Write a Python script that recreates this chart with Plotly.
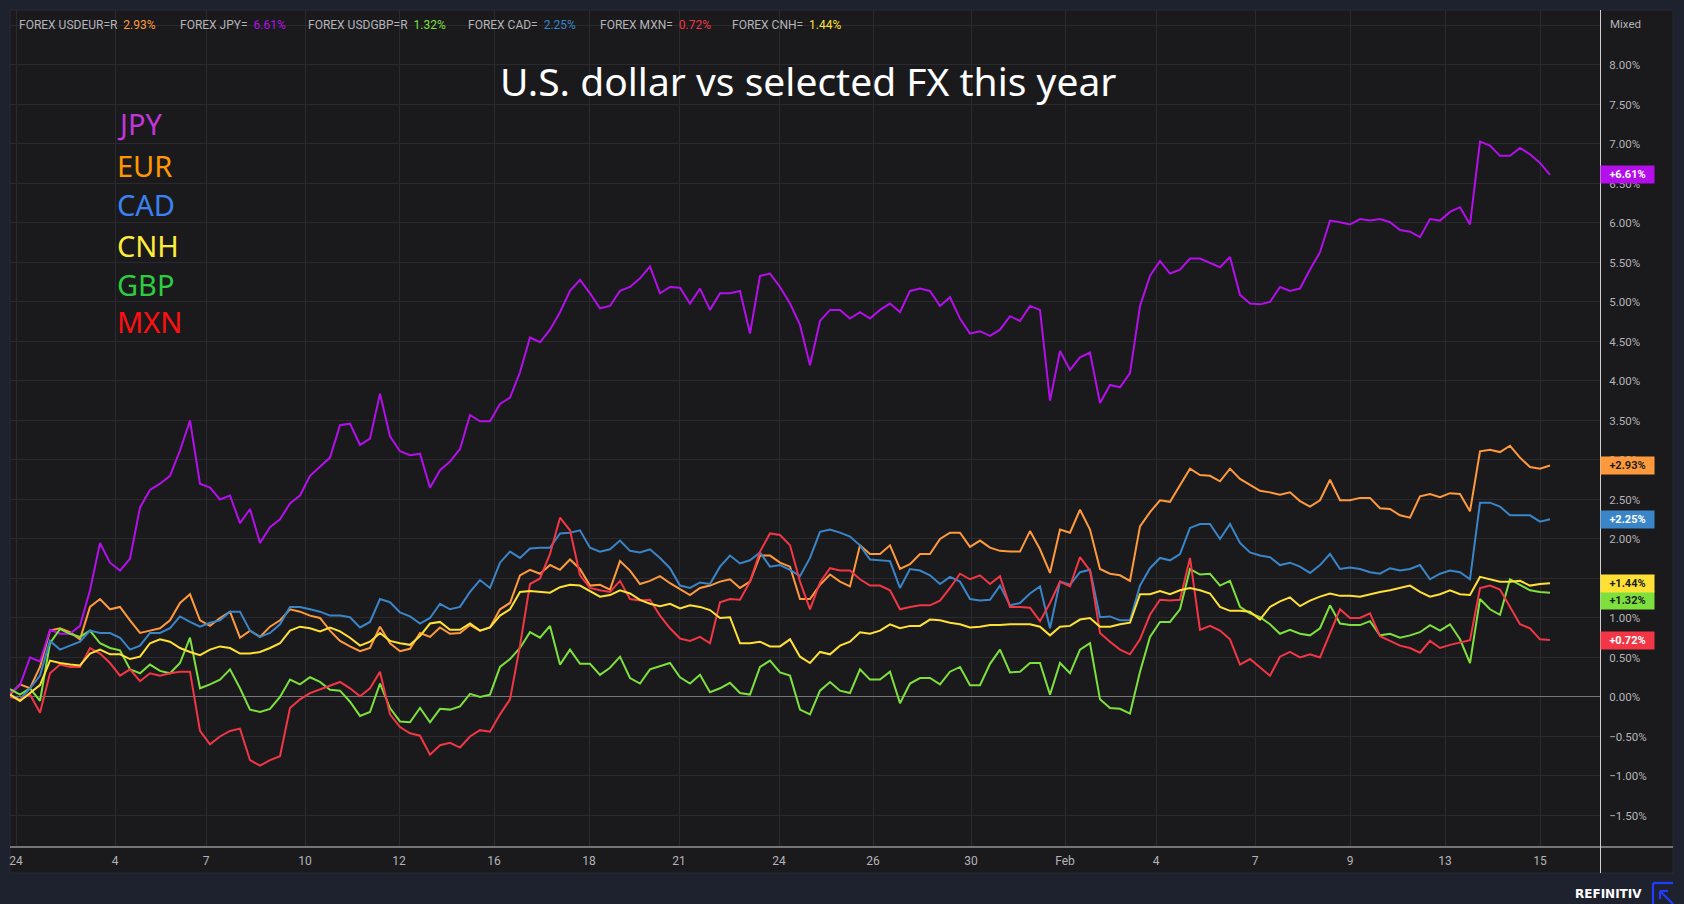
import plotly.graph_objects as go

# ---------------- data (percent change vs start of year) ----------------
# one sample per evenly spaced bar position (bar index 0..154)
EUR = [0.03,0.16,0.11,0.38,0.84,0.87,0.82,0.73,1.14,1.24,
       1.11,1.14,0.97,0.81,0.84,0.87,0.97,1.19,1.3,0.97,
       0.9,1.0,1.08,0.75,0.84,0.76,0.89,0.97,1.11,1.08,
       1.03,1.0,0.84,0.71,0.64,0.58,0.62,0.89,0.68,0.58,
       0.61,0.81,0.76,0.88,0.8,0.81,0.91,0.84,0.88,1.11,
       1.19,1.54,1.61,1.56,1.67,1.61,1.74,1.62,1.41,1.42,
       1.36,1.72,1.6,1.43,1.47,1.53,1.44,1.37,1.29,1.38,
       1.41,1.46,1.49,1.38,1.46,1.79,1.79,1.7,1.65,1.24,
       1.24,1.42,1.55,1.46,1.4,1.92,1.81,1.81,1.92,1.62,
       1.68,1.81,1.81,2.0,2.08,2.08,1.9,1.98,1.89,1.85,
       1.84,1.84,2.1,1.87,1.57,2.12,2.08,2.37,2.12,1.62,
       1.56,1.54,1.47,2.16,2.34,2.49,2.47,2.68,2.89,2.81,
       2.8,2.73,2.89,2.76,2.69,2.61,2.59,2.56,2.59,2.48,
       2.41,2.49,2.75,2.49,2.49,2.52,2.52,2.39,2.38,2.3,
       2.27,2.54,2.57,2.53,2.58,2.57,2.35,3.11,3.13,3.1,
       3.18,3.03,2.91,2.89,2.93]

JPY = [0.05,0.15,0.5,0.45,0.85,0.8,0.8,0.9,1.35,1.95,
       1.7,1.6,1.75,2.4,2.62,2.7,2.8,3.12,3.5,2.7,
       2.65,2.5,2.55,2.2,2.38,1.95,2.15,2.25,2.45,2.55,
       2.8,2.92,3.03,3.44,3.46,3.19,3.27,3.84,3.3,3.11,
       3.06,3.08,2.65,2.87,2.98,3.14,3.57,3.49,3.49,3.71,
       3.79,4.11,4.55,4.49,4.65,4.87,5.14,5.28,5.11,4.92,
       4.95,5.14,5.19,5.3,5.45,5.11,5.19,5.18,4.98,5.17,
       4.9,5.11,5.11,5.14,4.6,5.33,5.36,5.19,4.98,4.71,
       4.2,4.76,4.9,4.9,4.79,4.87,4.79,4.9,4.98,4.87,
       5.14,5.17,5.14,4.95,5.06,4.79,4.6,4.63,4.57,4.65,
       4.82,4.76,4.95,4.9,3.75,4.38,4.14,4.3,4.36,3.72,
       3.95,3.92,4.1,4.95,5.33,5.52,5.36,5.41,5.55,5.55,
       5.49,5.44,5.57,5.09,4.98,4.97,5.0,5.19,5.14,5.17,
       5.41,5.63,6.03,6.01,5.98,6.05,6.03,6.05,6.01,5.91,
       5.89,5.82,6.05,6.03,6.14,6.2,5.98,7.03,6.98,6.85,
       6.85,6.95,6.87,6.76,6.61]

GBP = [0.1,0.03,0.11,-0.05,0.68,0.86,0.8,0.76,0.84,0.68,
       0.62,0.59,0.35,0.3,0.41,0.33,0.3,0.43,0.75,0.11,
       0.16,0.22,0.35,0.11,-0.16,-0.19,-0.15,0.0,0.22,0.16,
       0.25,0.19,0.09,0.08,-0.06,-0.24,-0.19,0.17,-0.14,-0.31,
       -0.32,-0.14,-0.32,-0.15,-0.16,-0.12,0.04,0.0,0.03,0.38,
       0.48,0.62,0.82,0.75,0.9,0.41,0.6,0.42,0.42,0.28,
       0.37,0.51,0.24,0.17,0.35,0.39,0.43,0.25,0.17,0.28,
       0.06,0.11,0.18,0.05,0.03,0.38,0.46,0.31,0.27,-0.16,
       -0.22,0.08,0.19,0.08,0.05,0.35,0.22,0.22,0.32,-0.08,
       0.17,0.24,0.24,0.16,0.32,0.38,0.15,0.15,0.42,0.6,
       0.31,0.32,0.43,0.43,0.03,0.43,0.3,0.6,0.68,-0.03,
       -0.14,-0.15,-0.21,0.32,0.76,0.95,0.95,1.11,1.62,1.55,
       1.56,1.41,1.47,1.14,1.06,1.01,0.92,0.8,0.85,0.8,
       0.78,0.87,1.16,0.93,0.91,0.91,0.96,0.78,0.8,0.75,
       0.78,0.82,0.91,0.84,0.92,0.73,0.43,1.24,1.11,1.04,
       1.49,1.42,1.35,1.33,1.32]

CAD = [0.03,-0.03,0.11,0.27,0.71,0.6,0.65,0.7,0.84,0.81,
       0.81,0.75,0.6,0.65,0.81,0.81,0.87,1.02,0.95,0.89,
       0.94,0.97,1.08,1.08,0.84,0.76,0.81,0.92,1.14,1.14,
       1.11,1.08,1.03,1.03,1.01,0.88,0.95,1.24,1.2,1.07,
       1.02,0.93,1.0,1.18,1.11,1.14,1.33,1.48,1.38,1.7,
       1.84,1.76,1.88,1.89,1.89,2.07,2.08,2.11,1.89,1.84,
       1.87,1.98,1.85,1.83,1.87,1.76,1.63,1.41,1.38,1.45,
       1.43,1.65,1.79,1.69,1.73,1.83,1.65,1.67,1.61,1.53,
       1.76,2.09,2.12,2.08,2.03,1.92,1.74,1.73,1.72,1.38,
       1.62,1.6,1.54,1.43,1.52,1.46,1.24,1.22,1.23,1.41,
       1.16,1.19,1.31,1.4,0.87,1.46,1.42,1.58,1.61,1.01,
       1.02,0.97,0.97,1.41,1.63,1.76,1.73,1.81,2.14,2.19,
       2.19,2.0,2.19,1.95,1.83,1.79,1.77,1.67,1.7,1.65,
       1.57,1.67,1.81,1.62,1.64,1.62,1.58,1.56,1.63,1.6,
       1.62,1.67,1.49,1.56,1.6,1.58,1.49,2.46,2.46,2.41,
       2.3,2.3,2.3,2.22,2.25]

MXN = [0.0,-0.03,0.03,-0.2,0.3,0.41,0.38,0.38,0.62,0.55,
       0.43,0.27,0.35,0.2,0.3,0.27,0.3,0.32,0.32,-0.43,
       -0.6,-0.5,-0.43,-0.4,-0.8,-0.87,-0.8,-0.75,-0.14,-0.03,
       0.05,0.1,0.15,0.19,0.11,0.01,0.11,0.32,-0.22,-0.38,
       -0.46,-0.49,-0.73,-0.61,-0.58,-0.64,-0.5,-0.42,-0.44,-0.22,
       -0.03,0.65,1.43,1.5,1.81,2.27,2.11,1.54,1.38,1.35,
       1.33,1.47,1.24,1.22,1.23,1.03,0.87,0.74,0.71,0.76,
       0.68,1.2,1.24,1.23,1.46,1.84,2.07,2.05,1.92,1.46,
       1.11,1.45,1.63,1.6,1.6,1.49,1.41,1.41,1.35,1.11,
       1.14,1.16,1.16,1.22,1.38,1.56,1.49,1.54,1.43,1.53,
       1.14,1.14,1.13,0.96,1.19,1.46,1.4,1.77,1.6,0.81,
       0.7,0.6,0.54,0.73,1.04,1.23,1.22,1.23,1.76,0.85,
       0.9,0.84,0.73,0.41,0.48,0.38,0.27,0.51,0.57,0.5,
       0.54,0.5,0.8,1.11,1.0,1.0,1.06,0.77,0.71,0.65,
       0.62,0.56,0.71,0.62,0.66,0.69,0.72,1.38,1.41,1.36,
       1.14,0.92,0.87,0.73,0.72]

CNH = [0.03,-0.05,0.05,0.15,0.46,0.43,0.41,0.4,0.55,0.6,
       0.54,0.54,0.48,0.51,0.68,0.73,0.7,0.62,0.57,0.53,
       0.6,0.64,0.62,0.55,0.55,0.57,0.62,0.68,0.84,0.89,
       0.87,0.83,0.88,0.83,0.75,0.65,0.7,0.81,0.71,0.68,
       0.66,0.77,0.93,0.95,0.85,0.85,0.93,0.84,0.88,1.03,
       1.11,1.33,1.34,1.33,1.32,1.39,1.42,1.41,1.34,1.27,
       1.29,1.35,1.31,1.23,1.18,1.15,1.18,1.12,1.16,1.14,
       1.1,1.0,1.01,0.68,0.68,0.7,0.64,0.64,0.73,0.51,
       0.43,0.57,0.54,0.65,0.7,0.82,0.8,0.84,0.92,0.87,
       0.9,0.9,0.98,0.97,0.94,0.92,0.88,0.89,0.91,0.91,
       0.92,0.92,0.92,0.89,0.78,0.89,0.9,0.98,1.0,0.89,
       0.89,0.92,0.94,1.3,1.3,1.34,1.3,1.35,1.38,1.35,
       1.31,1.14,1.09,1.09,1.08,0.98,1.14,1.21,1.26,1.15,
       1.22,1.27,1.31,1.28,1.28,1.27,1.3,1.33,1.35,1.38,
       1.41,1.33,1.27,1.3,1.35,1.3,1.29,1.52,1.49,1.46,
       1.46,1.47,1.41,1.43,1.44]

# x-axis date labels and the bar positions where they fall
TICK_POS = [0.6, 10.5, 19.6, 29.5, 38.9, 48.4, 57.9, 66.9, 76.9, 86.3,
            96.1, 105.5, 114.6, 124.5, 134.0, 143.5, 153.0]
TICK_TEXT = ["24", "4", "7", "10", "12", "16", "18", "21", "24", "26",
             "30", "Feb", "4", "7", "9", "13", "15"]

Y_TICKS = [-1.5, -1.0, -0.5, 0.0, 0.5, 1.0, 1.5, 2.0, 2.5, 3.0, 3.5,
           4.0, 4.5, 5.0, 5.5, 6.0, 6.5, 7.0, 7.5, 8.0, 8.5]

# series: (name, instrument label, values, line colour, legend colour, badge text colour)
SERIES = [
    ("EUR", "FOREX USDEUR=R", EUR, "#ff9a3c", "#ff9800", "#1e1e1e"),
    ("JPY", "FOREX JPY=",     JPY, "#b40feb", "#c336d9", "#ffffff"),
    ("GBP", "FOREX USDGBP=R", GBP, "#7de03c", "#2ecc40", "#1e1e1e"),
    ("CAD", "FOREX CAD=",     CAD, "#3a85c8", "#3b82f0", "#ffffff"),
    ("MXN", "FOREX MXN=",     MXN, "#f23645", "#ff1010", "#ffffff"),
    ("CNH", "FOREX CNH=",     CNH, "#ffe135", "#ffeb3b", "#1e1e1e"),
]
LEGEND_ORDER = ["JPY", "EUR", "CAD", "CNH", "GBP", "MXN"]

# ---------------- layout helpers ----------------
W, H = 1684, 904
PL, PR, PT, PB = 10, 1600, 10, 847          # plot area in pixels
PANEL_R, PANEL_B = 1673, 873


def px(xp):
    return (xp - PL) / (PR - PL)


def py(yp):
    return (PB - yp) / (PB - PT)


PANEL = "#1a1a1d"
OUTER = "#1e222e"
GRID = "#2a2a2e"
TXT = "#b4b4b8"
SMALL = "Roboto, Arial, sans-serif"
NARROW = "Liberation Sans Narrow, Roboto Condensed, Roboto, Arial, sans-serif"
SANS = "Noto Sans, Open Sans, DejaVu Sans, sans-serif"

n = len(JPY)
xs = list(range(n))

fig = go.Figure()
for name, inst, vals, lc, _, _ in SERIES:
    fig.add_trace(go.Scatter(x=xs, y=vals, mode="lines", name=name,
                             line=dict(color=lc, width=2),
                             hoverinfo="skip", showlegend=False))


def ylab(v):
    s = f"{abs(v):.2f}%"
    return ("\u2212" + s) if v < 0 else s


ytext = [ylab(v) if v < 8.25 else "" for v in Y_TICKS]

shapes = [
    # panel
    dict(type="rect", xref="paper", yref="paper", layer="below",
         x0=px(10), x1=px(PANEL_R), y0=py(PANEL_B), y1=py(10),
         fillcolor=PANEL, line=dict(color="#262a35", width=1)),
    # bottom axis line
    dict(type="line", xref="paper", yref="paper", x0=px(10), x1=px(PANEL_R),
         y0=py(847), y1=py(847), line=dict(color="#cfcfd2", width=1)),
    # right axis line
    dict(type="line", xref="paper", yref="paper", x0=px(1600.5), x1=px(1600.5),
         y0=py(10), y1=py(PANEL_B), line=dict(color="#cfcfd2", width=1)),
]

# Refinitiv logo
BL = "#1f3cff"
for (xa, ya, xb, yb) in [(1653, 883, 1673, 883), (1653, 883, 1653, 904),
                         (1660, 891, 1673, 904), (1660, 891, 1668, 891),
                         (1660, 891, 1660, 899)]:
    shapes.append(dict(type="line", xref="paper", yref="paper",
                       x0=px(xa), x1=px(xb), y0=py(ya), y1=py(yb),
                       line=dict(color=BL, width=2.2)))

ann = []
# title
ann.append(dict(xref="paper", yref="paper", x=px(808), y=py(81),
                text="U.S. dollar vs selected FX this year", showarrow=False,
                xanchor="center", yanchor="middle",
                font=dict(family=SANS, size=39, color="#ffffff")))

# big colored labels
label_y = {"JPY": 124, "EUR": 165, "CAD": 204, "CNH": 246, "GBP": 284, "MXN": 322}
cmap = {s[0]: s for s in SERIES}
for nm in LEGEND_ORDER:
    ann.append(dict(xref="paper", yref="paper", x=px(115), y=py(label_y[nm]),
                    text=nm, showarrow=False, xanchor="left", yanchor="middle",
                    font=dict(family=SANS, size=29, color=cmap[nm][4])))

# top legend bar
top_x = {"EUR": 17, "JPY": 178, "GBP": 306, "CAD": 466, "MXN": 598, "CNH": 730}
for name, inst, vals, lc, _, _ in SERIES:
    last = vals[-1]
    ann.append(dict(xref="paper", yref="paper", x=px(top_x[name]), y=py(25),
                    text=f"{inst}  <span style='color:{lc}'>{last:.2f}%</span>",
                    showarrow=False, xanchor="left", yanchor="middle",
                    font=dict(family=SMALL, size=12, color=TXT)))

# price badges on the right axis
shift = {"GBP": -8}
for name, inst, vals, lc, _, tc in SERIES:
    last = vals[-1]
    ann.append(dict(xref="paper", yref="y", x=px(1600), y=last,
                    text=f"<b>+{last:.2f}%</b>", showarrow=False,
                    xanchor="left", yanchor="middle", yshift=shift.get(name, 0),
                    bgcolor=lc, width=51, height=15, borderpad=1,
                    font=dict(family=SMALL, size=11, color=tc)))

# "Mixed" scale label
ann.append(dict(xref="paper", yref="paper", x=px(1608), y=py(24), text="Mixed",
                showarrow=False, xanchor="left", yanchor="middle",
                font=dict(family=SMALL, size=11.5, color=TXT)))
# REFINITIV
ann.append(dict(xref="paper", yref="paper", x=px(1644), y=py(894),
                text="<b>REFINITIV</b>", showarrow=False, xanchor="right",
                yanchor="middle",
                font=dict(family="DejaVu Sans, sans-serif", size=12, color="#ffffff")))

fig.update_layout(
    width=W, height=H, autosize=False,
    margin=dict(l=PL, r=W - PR, t=PT, b=H - PB),
    paper_bgcolor=OUTER, plot_bgcolor=PANEL,
    shapes=shapes, annotations=ann, showlegend=False,
    xaxis=dict(range=[0, 159], tickmode="array", tickvals=TICK_POS,
               ticktext=TICK_TEXT, showgrid=True, gridcolor=GRID, gridwidth=1,
               zeroline=False, showline=False, ticks="outside", ticklen=3,
               tickcolor=PANEL, tickfont=dict(family=SMALL, size=12, color=TXT)),
    yaxis=dict(range=[-1.899, 8.696], side="right", tickmode="array",
               tickvals=Y_TICKS, ticktext=ytext, showgrid=True, gridcolor=GRID,
               gridwidth=1, zeroline=True, zerolinecolor="#76767c",
               zerolinewidth=1, showline=False, ticks="outside", ticklen=6,
               tickcolor=PANEL, tickfont=dict(family=SMALL, size=11.5, color=TXT)),
)

fig.write_html("out.html")
